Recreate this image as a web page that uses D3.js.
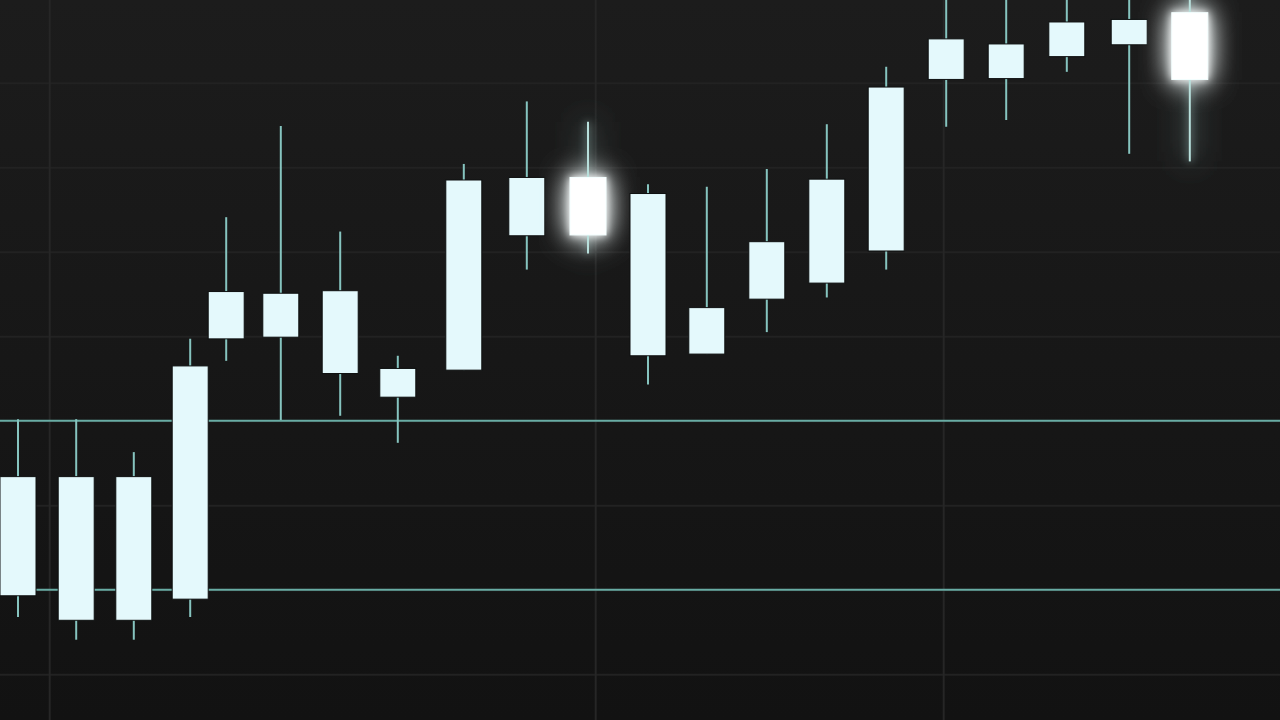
<!DOCTYPE html>
<html>
<head>
<meta charset="utf-8">
<script src="https://cdn.jsdelivr.net/npm/d3@7"></script>
<style>
  html, body { margin: 0; padding: 0; background: #171717; overflow: hidden; }
  svg { display: block; }
</style>
</head>
<body>
<svg id="chart" width="1280" height="720"></svg>
<script>
// ---- data ----
const times  = [0.30, 1.27, 2.23, 3.17, 3.77, 4.68, 5.67, 6.63, 7.73, 8.78, 9.80, 10.80, 11.78, 12.78, 13.78, 14.77, 15.77, 16.77, 17.78, 18.82, 19.83];
const opens  = [99.93, 99.64, 99.64, 99.89, 102.97, 102.99, 103.54, 102.28, 102.60, 104.19, 104.20, 104.69, 102.79, 103.44, 103.63, 104.01, 106.04, 106.05, 106.31, 106.45, 106.04];
const highs  = [102.02, 102.02, 101.63, 102.97, 104.41, 105.49, 104.24, 102.77, 105.04, 105.78, 105.54, 104.80, 104.77, 104.98, 105.51, 106.19, 107.25, 107.25, 107.25, 107.25, 107.25];
const lows   = [99.68, 99.41, 99.41, 99.68, 102.71, 102.01, 102.06, 101.74, 102.60, 103.79, 103.98, 102.43, 102.79, 103.05, 103.46, 103.79, 105.48, 105.56, 106.13, 105.16, 105.07];
const closes = [101.34, 101.34, 101.34, 102.65, 103.53, 103.51, 102.56, 102.62, 104.85, 104.88, 104.88, 102.77, 103.34, 104.12, 104.86, 105.95, 106.52, 106.46, 106.72, 106.75, 106.83];
const highlighted = [10, 20];
const priceTicks = [99, 100, 101, 102, 103, 104, 105, 106];
const levels = [100, 102];
const timeGrid = [0.82, 9.92, 15.72];

// ---- layout ----
const W = 1280, H = 720;
const svg = d3.select("#chart");
const x = d3.scaleLinear().domain([0, W / 60]).range([0, W]);
const y = d3.scaleLinear().domain([98.46, 106.98]).range([H, 0]);
const bodyW = x(0.6) - x(0);

const defs = svg.append("defs");
const bg = defs.append("linearGradient").attr("id", "bg").attr("x1", 0).attr("y1", 0).attr("x2", 0).attr("y2", 1);
bg.append("stop").attr("offset", "0%").attr("stop-color", "#1c1c1c");
bg.append("stop").attr("offset", "100%").attr("stop-color", "#121212");

const glow = defs.append("filter").attr("id", "glow")
  .attr("x", "-150%").attr("y", "-100%").attr("width", "400%").attr("height", "300%");
glow.append("feGaussianBlur").attr("in", "SourceGraphic").attr("stdDeviation", 14).attr("result", "b1");
glow.append("feColorMatrix").attr("in", "b1").attr("type", "matrix")
  .attr("values", "0.8 0 0 0 0  0 0.85 0 0 0  0 0 0.85 0 0  0 0 0 0.9 0").attr("result", "b1c");
glow.append("feGaussianBlur").attr("in", "SourceGraphic").attr("stdDeviation", 4).attr("result", "b2");
const merge = glow.append("feMerge");
merge.append("feMergeNode").attr("in", "b1c");
merge.append("feMergeNode").attr("in", "b1c");
merge.append("feMergeNode").attr("in", "b2");
merge.append("feMergeNode").attr("in", "SourceGraphic");

svg.append("rect").attr("width", W).attr("height", H).attr("fill", "url(#bg)");

// horizontal grid via axis
const gy = svg.append("g").attr("transform", `translate(${W},0)`)
  .call(d3.axisRight(y).tickValues(priceTicks).tickSize(-W).tickFormat(""));
gy.select(".domain").remove();
gy.selectAll(".tick line").attr("stroke", "#222222").attr("stroke-width", 2);

// vertical grid via axis
const gx = svg.append("g").attr("transform", `translate(0,${H})`)
  .call(d3.axisTop(x).tickValues(timeGrid).tickSize(H).tickFormat(""));
gx.select(".domain").remove();
gx.selectAll(".tick line").attr("stroke", "#262626").attr("stroke-width", 2);

// support / resistance levels
svg.append("g").selectAll("line").data(levels).join("line")
  .attr("x1", 0).attr("x2", W)
  .attr("y1", d => y(d)).attr("y2", d => y(d))
  .attr("stroke", "#68aca4").attr("stroke-width", 2);

// candles
const data = times.map((t, i) => ({ t, o: opens[i], h: highs[i], l: lows[i], c: closes[i], hl: highlighted.includes(i) }));

const g = svg.append("g").selectAll("g").data(data).join("g")
  .attr("filter", d => d.hl ? "url(#glow)" : null);

g.append("line")
  .attr("x1", d => x(d.t)).attr("x2", d => x(d.t))
  .attr("y1", d => y(d.h)).attr("y2", d => y(d.l))
  .attr("stroke", d => d.hl ? "#b8e0dc" : "#86c4bf").attr("stroke-width", 2);

g.append("rect")
  .attr("x", d => x(d.t) - bodyW / 2)
  .attr("width", bodyW)
  .attr("y", d => y(Math.max(d.o, d.c)))
  .attr("height", d => Math.abs(y(d.o) - y(d.c)))
  .attr("fill", d => d.hl ? "#ffffff" : "#e4f9fc")
  .attr("stroke", d => d.hl ? "#f4ffff" : "#0e1010")
  .attr("stroke-width", 1);
</script>
</body>
</html>
